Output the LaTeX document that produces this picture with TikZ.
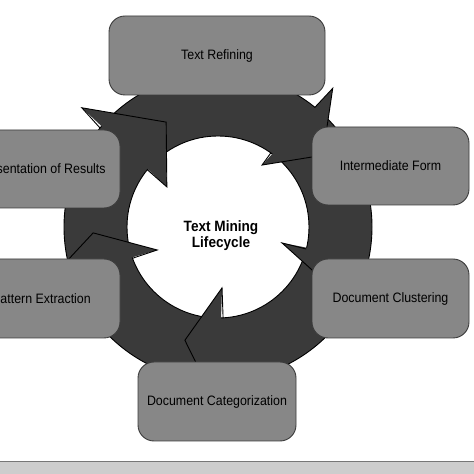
\documentclass[tikz,border=0pt]{standalone}
\usepackage{fontspec}
\setmainfont{Liberation Sans}
\definecolor{ringc}{HTML}{3A3A3A}
\definecolor{boxc}{HTML}{878787}
\definecolor{boxline}{HTML}{3C3C3C}
\definecolor{barc}{HTML}{CDCDCD}
\definecolor{barline}{HTML}{777777}
\newcommand{\talltext}[1]{\scalebox{1}[1.1]{#1}}
\begin{document}
\begin{tikzpicture}[x=1pt,y=1pt,
  edge/.style={draw=black,line width=0.9pt,line join=miter},
  box/.style={draw=boxline,fill=boxc,rounded corners=16pt,line width=0.9pt,
    minimum width=157pt,minimum height=78pt,inner sep=0pt,
    font=\fontsize{12.4}{14}\selectfont},
  hub/.style={font=\bfseries\fontsize{13.6}{13.9}\selectfont,inner sep=0pt}]
\useasboundingbox (0,0) rectangle (474,474);
\clip (0,0) rectangle (474,474);
\fill[white] (0,0) rectangle (474,474);
% ring with arrow heads
\begin{scope}[shift={(218,247)}]
  \fill[ringc,even odd rule] (0,0) circle (154) (0,0) circle (91);
  \draw[edge] (0,0) circle (154) (0,0) circle (91);
  \foreach \ba/\oa/\orr/\ta/\tr/\ia/\ir/\bi in {
      140/138.8/181/116.3/117/141.9/65/141,
      51/50.4/180/34.4/127/54.6/76/54.5,
      -13/-12/180/-27.4/123/-14/66/-14,
      -89/-90/180/-106.3/118/-86.2/61/-86.8,
      199/198/180/182.7/125/200.7/65/200.1}{
    \fill[ringc] (\oa:\orr) -- (\ta:\tr) -- (\ia:\ir) -- cycle;
    \draw[edge] (\ba:154) -- (\oa:\orr) -- (\ta:\tr) -- (\ia:\ir) -- (\bi:91);
  }
\end{scope}
% boxes
\node[box,minimum width=216pt,minimum height=79pt] (refine) at (217,418.5) {\talltext{Text Refining}};
\node[box] (inter) at (390.5,308) {\talltext{Intermediate Form}};
\node[box] (pres) at (41.5,305) {\talltext{Presentation of Results}};
\node[box,minimum height=79pt] (pattern) at (41.5,175.5) {\talltext{Pattern Extraction}};
\node[box,minimum height=79pt] (cluster) at (390.5,175.5) {\talltext{Document Clustering}};
\node[box,minimum width=158pt,minimum height=79pt] (categ) at (217,72.5) {\talltext{Document Categorization}};
% centre label
\node[hub] (hubtext) at (221,237.5) {\talltext{\begin{tabular}{@{}c@{}}Text Mining\\Lifecycle\end{tabular}}};
% bottom bar
\fill[barc] (0,0) rectangle (474,12.3);
\draw[barline,line width=1.2pt] (0,12.3) -- (474,12.3);
\end{tikzpicture}
\end{document}
